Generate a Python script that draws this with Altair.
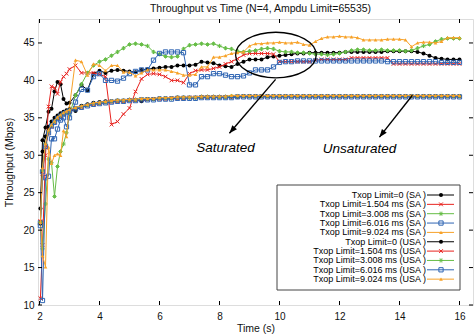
import altair as alt
import pandas as pd

# ---------------- data ----------------
T = [2.03, 2.1, 2.2, 2.3, 2.4, 2.5, 2.6, 2.7, 2.8, 2.9, 3.0,
     3.2, 3.4, 3.6, 3.8, 4.0, 4.2, 4.4, 4.6, 4.8, 5.0,
     5.2, 5.4, 5.6, 5.8, 6.0, 6.2, 6.4, 6.6, 6.8, 7.0,
     7.2, 7.4, 7.6, 7.8, 8.0, 8.2, 8.4, 8.6, 8.8, 9.0,
     9.2, 9.4, 9.6, 9.8, 10.0, 10.2, 10.4, 10.6, 10.8, 11.0,
     11.2, 11.4, 11.6, 11.8, 12.0, 12.2, 12.4, 12.6, 12.8, 13.0,
     13.2, 13.4, 13.6, 13.8, 14.0, 14.2, 14.4, 14.6, 14.8, 15.0,
     15.2, 15.4, 15.6, 15.8, 16.0]

SA_0 = [22.9, 32.0, 33.7, 35.8, 36.2, 38.5, 39.8, 39.5, 37.5, 36.9, 37.0,
        38.0, 39.4, 38.7, 40.9, 41.3, 41.0, 41.3, 41.4, 41.3, 41.2,
        41.1, 41.4, 41.5, 41.6, 41.7, 41.8, 41.8, 42.0, 42.0, 42.0,
        42.1, 42.5, 42.4, 42.3, 42.0, 41.9, 41.8, 42.2, 42.5, 42.8,
        42.8, 42.8, 43.1, 43.2, 43.3, 43.4, 43.5, 43.6, 43.6, 43.7,
        43.7, 43.7, 43.7, 43.7, 43.7, 43.8, 43.8, 43.8, 43.8, 43.8,
        43.8, 43.8, 43.9, 43.9, 43.9, 43.9, 43.9, 43.8, 43.6, 43.3,
        43.0, 42.9, 42.8, 42.8, 42.8]
SA_1504 = [10.9, 18.0, 30.0, 36.5, 39.2, 39.0, 38.2, 39.8, 40.5, 40.9, 41.5,
           42.0, 41.0, 41.0, 41.0, 40.8, 40.5, 34.1, 34.5, 35.5, 36.3,
           38.5, 40.2, 40.8, 40.9, 40.8, 40.5, 40.0, 40.0, 39.7, 40.9,
           41.3, 41.4, 41.4, 41.6, 41.8, 42.2, 42.5, 42.9, 43.4, 43.6,
           43.6, 43.6, 43.6, 43.5, 42.5, 42.5, 42.5, 42.5, 42.5, 42.5,
           42.7, 42.8, 42.8, 42.8, 42.8, 42.8, 43.0, 43.0, 43.0, 43.0,
           43.0, 43.0, 43.0, 42.2, 42.2, 42.2, 42.2, 42.2, 42.2, 42.2,
           42.2, 42.2, 42.2, 42.2, 42.2]
SA_3008 = [21.0, 17.5, 23.5, 29.5, 29.0, 24.5, 28.5, 30.5, 31.5, 33.0, 35.5,
           38.0, 39.5, 41.0, 42.0, 42.5, 42.8, 43.3, 43.8, 44.3, 44.8,
           44.9, 44.8, 44.6, 43.8, 43.5, 43.2, 43.1, 43.2, 44.2, 44.7,
           44.8, 44.9, 44.8, 44.9, 44.6, 44.3, 44.2, 43.9, 43.8, 43.9,
           44.0, 44.2, 44.3, 44.2, 43.9, 43.8, 43.8, 43.7, 43.7, 43.6,
           43.5, 43.5, 43.4, 43.5, 43.6, 43.8, 44.0, 44.1, 44.1, 44.0,
           44.0, 44.1, 44.0, 44.0, 44.0, 43.9, 44.0, 44.3, 44.6, 44.8,
           45.2, 45.5, 45.6, 45.6, 45.6]
SA_6016 = [21.0, 10.6, 27.0, 27.2, 32.2, 32.2, 33.5, 34.7, 35.0, 33.8, 35.0,
           37.1, 38.8, 38.7, 40.5, 40.9, 40.0, 40.0, 39.9, 40.3, 40.9,
           41.2, 41.4, 41.4, 42.7, 43.6, 43.8, 43.8, 43.8, 43.7, 39.4,
           39.4, 40.5, 40.5, 40.9, 40.9, 40.7, 40.5, 40.5, 40.6, 41.0,
           41.4, 41.4, 41.4, 41.8, 42.4, 42.5, 42.5, 42.6, 42.6, 42.6,
           42.6, 42.6, 42.6, 42.6, 42.6, 42.6, 42.6, 42.6, 42.6, 42.6,
           42.6, 42.6, 42.5, 42.5, 42.5, 42.5, 42.5, 42.5, 42.5, 42.5,
           42.5, 42.4, 42.4, 42.4, 42.4]
SA_9024 = [21.3, 16.6, 15.1, 31.1, 28.9, 30.0, 30.2, 30.0, 33.3, 32.5, 36.5,
           42.7, 42.5, 40.7, 42.2, 42.0, 41.3, 42.0, 42.0, 41.1, 41.1,
           40.6, 41.0, 41.4, 41.4, 41.4, 41.4, 41.2, 41.0, 40.7, 40.7,
           40.8, 41.8, 41.8, 43.1, 43.1, 43.3, 43.6, 43.7, 43.8, 44.6,
           44.9, 44.9, 45.0, 45.0, 45.1, 45.0, 45.0, 45.1, 44.8, 44.7,
           45.2, 45.6, 45.8, 45.8, 45.9, 45.8, 45.8, 45.7, 45.4, 45.4,
           45.4, 45.4, 45.5, 45.5, 45.5, 45.4, 44.5, 45.0, 45.1, 45.1,
           45.0, 45.2, 45.7, 45.7, 45.7]

USA_0 = [20.9, 30.5, 32.5, 33.8, 34.5, 35.0, 35.3, 35.6, 35.8, 36.0, 36.1,
         35.9, 36.6, 36.8, 37.0, 37.1, 37.2, 37.2, 37.3, 37.3, 37.4,
         37.4, 37.2, 37.5, 37.5, 37.6, 37.6, 37.6, 37.7, 37.7, 37.7,
         37.7, 37.8, 37.8, 37.8, 37.8, 37.8, 37.8, 37.8, 37.9, 37.9,
         37.9, 37.9, 37.9, 37.9, 37.9, 37.9, 37.9, 37.9, 37.9, 37.9,
         37.9, 37.9, 37.9, 37.9, 37.9, 37.9, 37.9, 37.9, 37.9, 37.9,
         37.9, 37.9, 37.9, 37.9, 37.9, 37.9, 37.9, 37.9, 37.9, 37.9,
         37.9, 37.9, 37.9, 37.9, 37.9]
USA_1504 = [21.2, 27.5, 31.0, 33.0, 33.8, 34.4, 34.9, 35.2, 35.5, 35.7, 35.9,
            36.2, 36.4, 36.6, 36.8, 36.9, 37.0, 37.1, 37.2, 37.2, 37.3,
            37.3, 37.4, 37.4, 37.5, 37.5, 37.5, 37.6, 37.6, 37.6, 37.7,
            37.7, 37.7, 37.7, 37.7, 37.8, 37.8, 37.8, 37.8, 37.8, 37.8,
            37.8, 37.8, 37.8, 37.8, 37.8, 37.8, 37.8, 37.8, 37.8, 37.8,
            37.8, 37.8, 37.8, 37.8, 37.8, 37.8, 37.8, 37.8, 37.8, 37.8,
            37.8, 37.8, 37.8, 37.8, 37.8, 37.8, 37.8, 37.8, 37.8, 37.8,
            37.8, 37.8, 37.8, 37.8, 37.8]
USA_3008 = [21.0, 28.0, 31.5, 33.2, 34.0, 34.5, 35.0, 35.3, 35.6, 35.8, 36.0,
            36.3, 36.5, 36.7, 36.9, 37.0, 37.1, 37.2, 37.3, 37.3, 37.4,
            37.4, 37.5, 37.5, 37.5, 37.6, 37.6, 37.6, 37.7, 37.7, 37.7,
            37.7, 37.8, 37.8, 37.8, 37.8, 37.8, 37.9, 37.9, 37.9, 37.9,
            37.9, 37.9, 37.9, 37.9, 37.9, 37.9, 37.9, 37.9, 37.9, 37.9,
            37.9, 37.9, 37.9, 37.9, 37.9, 37.9, 37.9, 37.9, 37.9, 37.9,
            37.9, 37.9, 37.9, 37.9, 37.9, 37.9, 37.9, 37.9, 37.9, 37.9,
            37.9, 37.9, 37.9, 37.9, 37.9]
USA_6016 = [20.6, 27.8, 31.2, 33.0, 33.9, 34.4, 34.9, 35.2, 35.5, 35.7, 35.9,
            36.2, 36.4, 36.6, 36.8, 36.9, 37.0, 37.1, 37.2, 37.2, 37.3,
            37.3, 37.4, 37.4, 37.4, 37.5, 37.5, 37.5, 37.6, 37.6, 37.6,
            37.6, 37.7, 37.7, 37.7, 37.7, 37.7, 37.7, 37.8, 37.8, 37.8,
            37.8, 37.8, 37.8, 37.8, 37.8, 37.8, 37.8, 37.8, 37.8, 37.8,
            37.8, 37.8, 37.8, 37.8, 37.8, 37.8, 37.8, 37.8, 37.8, 37.8,
            37.8, 37.8, 37.8, 37.8, 37.8, 37.8, 37.8, 37.8, 37.8, 37.8,
            37.8, 37.8, 37.8, 37.8, 37.8]
USA_9024 = [21.0, 28.3, 31.6, 33.4, 34.1, 34.6, 35.1, 35.4, 35.7, 35.9, 36.1,
            36.4, 36.6, 36.8, 37.0, 37.1, 37.2, 37.3, 37.4, 37.4, 37.5,
            37.5, 37.6, 37.6, 37.6, 37.7, 37.7, 37.7, 37.8, 37.8, 37.8,
            37.8, 37.9, 37.9, 37.9, 37.9, 37.9, 38.0, 38.0, 38.0, 38.0,
            38.0, 38.0, 38.0, 38.0, 38.0, 38.0, 38.0, 38.0, 38.0, 38.0,
            38.0, 38.0, 38.0, 38.0, 38.0, 38.0, 38.0, 38.0, 38.0, 38.0,
            38.0, 38.0, 38.0, 38.0, 38.0, 38.0, 38.0, 38.0, 38.0, 38.0,
            38.0, 38.0, 38.0, 38.0, 38.0]

LABELS = ["Txop Limit=0 (SA )", "Txop Limit=1.504 ms (SA )", "Txop Limit=3.008 ms (SA )",
          "Txop Limit=6.016 ms (SA )", "Txop Limit=9.024 ms (SA )",
          "Txop Limit=0 (USA )", "Txop Limit=1.504 ms (USA )", "Txop Limit=3.008 ms (USA )",
          "Txop Limit=6.016 ms (USA )", "Txop Limit=9.024 ms (USA )"]
SERIES = [SA_0, SA_1504, SA_3008, SA_6016, SA_9024,
          USA_0, USA_1504, USA_3008, USA_6016, USA_9024]

X_TICKS = [2, 4, 6, 8, 10, 12, 14, 16]
Y_TICKS = [10, 15, 20, 25, 30, 35, 40, 45]

ANN_T = [8.2, 12.67]
ANN_V = [30.95, 30.9]
ANN_TEXT = ["Saturated", "Unsaturated"]
ARROW_T = [9.87, 8.33, 14.43, 13.33]
ARROW_V = [40.14, 32.94, 38.02, 32.42]
ARROW_G = ["a", "a", "b", "b"]

# ---------------- styles ----------------
BLACK, RED, GREEN, BLUE, ORANGE = "#000000", "#e8231f", "#66bd46", "#2f65b3", "#f7a229"
COLORS = [BLACK, RED, GREEN, BLUE, ORANGE] * 2
XPATH = "M-1,-1L1,1M-1,1L1,-1"
ASTER = "M-1,0L1,0M0,-1L0,1M-0.7,-0.7L0.7,0.7M-0.7,0.7L0.7,-0.7"
SHAPES = ["circle", XPATH, ASTER, "square", "triangle-up"] * 2
FILLED = [True, False, False, False, True] * 2
SIZES = [16, 14, 18, 18, 14] * 2
FONT = "Liberation Sans"

W, H = 435, 286
xscale = alt.Scale(domain=[1.95, 16.45], nice=False, zero=False)
yscale = alt.Scale(domain=[10, 48.2], nice=False, zero=False)
xaxis = alt.Axis(title="Time (s)", values=X_TICKS, ticks=False, domain=False, grid=False,
                 labelFontSize=10, labelPadding=6, titleFontSize=10.5, titlePadding=2,
                 labelFont=FONT, titleFont=FONT, titleFontWeight="normal",
                 labelColor="#111", titleColor="#111")
yaxis = alt.Axis(title="Throughput (Mbps)", values=Y_TICKS, ticks=False, domain=False, grid=False,
                 labelFontSize=10, labelPadding=4, titleFontSize=10.5, titlePadding=8,
                 labelFont=FONT, titleFont=FONT, titleFontWeight="normal",
                 labelColor="#111", titleColor="#111")

rows = []
for lab, vals in zip(LABELS, SERIES):
    assert len(vals) == len(T)
    for t, v in zip(T, vals):
        rows.append({"series": lab, "t": t, "v": v})
df = pd.DataFrame(rows)

X = alt.X("t:Q", scale=xscale, axis=xaxis)
Y = alt.Y("v:Q", scale=yscale, axis=yaxis)

layers = []
base = alt.Chart(df)
for i, lab in enumerate(LABELS):
    sub = base.transform_filter(alt.datum.series == lab)
    layers.append(sub.mark_line(color=COLORS[i], strokeWidth=1).encode(x=X, y=Y, order="t:Q"))
    layers.append(sub.mark_point(shape=SHAPES[i], filled=FILLED[i], color=COLORS[i],
                                 size=SIZES[i], strokeWidth=1, opacity=1).encode(x=X, y=Y))

# inward ticks on all four sides
xt = alt.Chart(pd.DataFrame({"t": X_TICKS}))
yt = alt.Chart(pd.DataFrame({"v": Y_TICKS}))
layers.append(xt.mark_rule(color="black", strokeWidth=1).encode(x=X, y=alt.value(H), y2=alt.value(H - 4)))
layers.append(xt.mark_rule(color="black", strokeWidth=1).encode(x=X, y=alt.value(0), y2=alt.value(4)))
layers.append(yt.mark_rule(color="black", strokeWidth=1).encode(y=Y, x=alt.value(0), x2=alt.value(4)))
layers.append(yt.mark_rule(color="black", strokeWidth=1).encode(y=Y, x=alt.value(W), x2=alt.value(W - 4)))

# annotations: ellipse, arrows, texts
ELLIPSE = ("M1,0C1,0.312 0.552,0.565 0,0.565C-0.552,0.565 -1,0.312 -1,0"
           "C-1,-0.312 -0.552,-0.565 0,-0.565C0.552,-0.565 1,-0.312 1,0Z")
ell = alt.Chart(pd.DataFrame({"t": [9.88], "v": [43.39]}))
layers.append(ell.mark_point(shape=ELLIPSE, filled=False, color="black", size=6500,
                             strokeWidth=1.3, opacity=1).encode(x=X, y=Y))
arr = alt.Chart(pd.DataFrame({"t": ARROW_T, "v": ARROW_V, "g": ARROW_G}))
layers.append(arr.mark_line(color="black", strokeWidth=1.4).encode(x=X, y=Y, detail="g:N"))
HEAD = "M0,0L-0.38,1L0.38,1Z"
for k, ang in [(1, 220.6), (3, 218.2)]:
    hd = alt.Chart(pd.DataFrame({"t": [ARROW_T[k]], "v": [ARROW_V[k]]}))
    layers.append(hd.mark_point(shape=HEAD, filled=True, color="black", size=256,
                                angle=ang, opacity=1).encode(x=X, y=Y))
ann = alt.Chart(pd.DataFrame({"t": ANN_T, "v": ANN_V, "txt": ANN_TEXT}))
layers.append(ann.mark_text(font=FONT, fontSize=13.5, fontStyle="italic", color="black").encode(
    x=X, y=Y, text="txt:N"))

# legend (drawn in pixel space of the plot area)
one = alt.Chart(pd.DataFrame({"a": [0]}))
layers.append(one.mark_rect(fill="white", stroke="#444", strokeWidth=1).encode(
    x=alt.value(239), x2=alt.value(422), y=alt.value(166), y2=alt.value(271)))
for i, lab in enumerate(LABELS):
    yy = 176 + i * 9.35
    layers.append(one.mark_text(align="right", baseline="middle", font=FONT, fontSize=9,
                                color="black", text=lab).encode(x=alt.value(388), y=alt.value(yy)))
    layers.append(one.mark_rule(color=COLORS[i], strokeWidth=1).encode(
        x=alt.value(389), x2=alt.value(416), y=alt.value(yy)))
    layers.append(one.mark_point(shape=SHAPES[i], filled=FILLED[i], color=COLORS[i],
                                 size=SIZES[i], strokeWidth=1, opacity=1).encode(
        x=alt.value(403), y=alt.value(yy)))

chart = alt.layer(*layers).properties(
    width=W, height=H,
    title=alt.Title("Throughput vs Time (N=4, Ampdu Limit=65535)", font=FONT, fontSize=10.5,
                    fontWeight="normal", color="#111", offset=4, dx=5),
    autosize=alt.AutoSizeParams(type="none"),
    padding={"left": 38, "top": 19, "right": 1, "bottom": 30},
).configure_view(stroke="black", strokeWidth=1).configure(background="white")

chart.save("out.html", embed_options={"renderer": "svg", "actions": False})
